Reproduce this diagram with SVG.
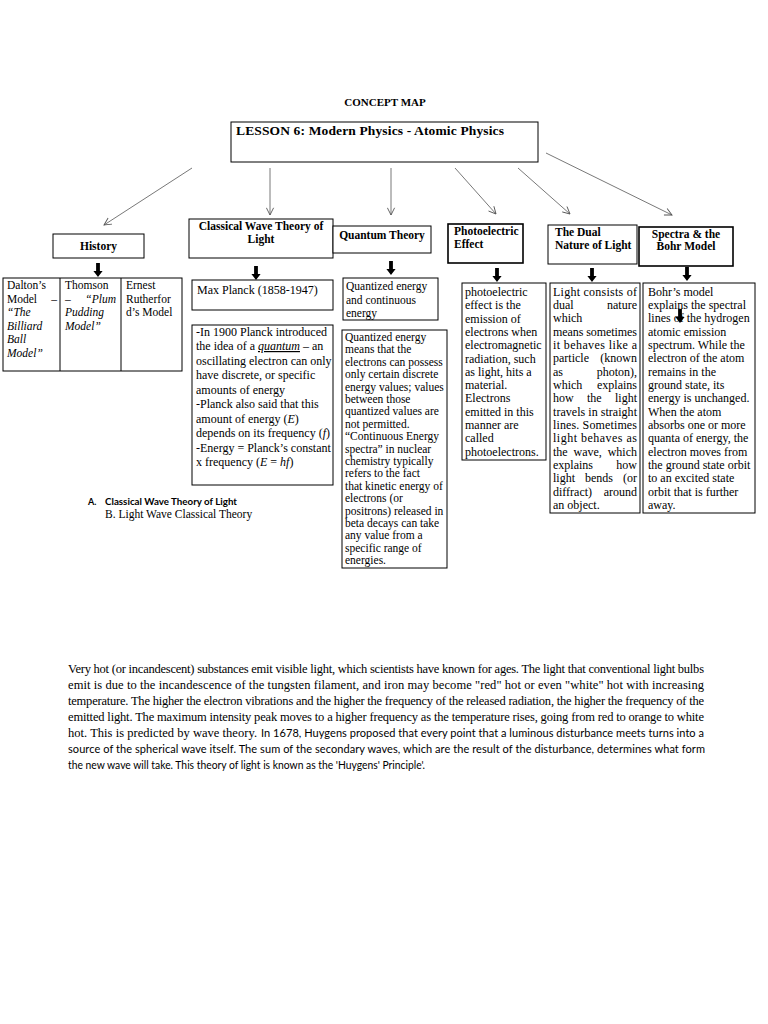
<svg xmlns="http://www.w3.org/2000/svg" width="768" height="1024" viewBox="0 0 768 1024">
<style>
.bg{fill:#ffffff}
.box{fill:#ffffff;stroke:#000000;stroke-width:1}
.box2{fill:#ffffff;stroke:#000000;stroke-width:1.6}
.div{stroke:#000000;stroke-width:1}
.t{font-family:'Liberation Serif','Times New Roman',serif;fill:#000000}
.h{font-family:'Liberation Serif','Times New Roman',serif;font-weight:bold;fill:#000000}
.b12{font-size:12px}
.b115{font-size:11.5px}
.i{font-style:italic}
.s{font-family:Lato,'Liberation Sans',Arial,sans-serif;fill:#000000}
.conn{stroke:#555555;stroke-width:0.8;fill:none}
</style>
<defs>
<marker id="open" viewBox="0 0 10 10" refX="9" refY="5" markerWidth="9" markerHeight="9" orient="auto" markerUnits="userSpaceOnUse">
<path d="M1,1 L9,5 L1,9" fill="none" stroke="#555555" stroke-width="1"/>
</marker>
<path id="barrow" d="M-1.9,0 H1.9 V8 H4.6 L0,14 L-4.6,8 H-1.9 Z" fill="#000000"/>
</defs>
<rect class="bg" x="0" y="0" width="768" height="1024"/>

<text class="h" x="385" y="106" font-size="11" text-anchor="middle">CONCEPT MAP</text>

<g id="lesson">
<rect class="box" x="231" y="122" width="307" height="40" stroke-width="1.2"/>
<text class="h" x="236" y="135" font-size="13.5" textLength="268" lengthAdjust="spacing">LESSON 6:  Modern Physics - Atomic Physics</text>
</g>

<g id="connectors">
<line class="conn" x1="192" y1="168" x2="104" y2="225" marker-end="url(#open)"/>
<line class="conn" x1="270" y1="168" x2="270" y2="215" marker-end="url(#open)"/>
<line class="conn" x1="391" y1="168" x2="391" y2="215" marker-end="url(#open)"/>
<line class="conn" x1="455" y1="168" x2="496" y2="214" marker-end="url(#open)"/>
<line class="conn" x1="518" y1="168" x2="570" y2="214" marker-end="url(#open)"/>
<line class="conn" x1="546" y1="153" x2="672" y2="215" marker-end="url(#open)"/>
<use href="#barrow" x="98" y="263"/>
<use href="#barrow" x="256" y="266"/>
<use href="#barrow" x="391" y="261"/>
<use href="#barrow" x="497" y="268"/>
<use href="#barrow" x="592" y="268"/>
<use href="#barrow" x="687" y="267"/>
</g>

<g id="history">
<rect class="box" x="53" y="234" width="91" height="24" stroke-width="2"/>
<text class="h b115" x="98.5" y="250" text-anchor="middle">History</text>
</g>
<g id="history-models">
<rect class="box" x="3" y="278" width="179" height="93"/>
<line class="div" x1="60" y1="278" x2="60" y2="371"/>
<line class="div" x1="121" y1="278" x2="121" y2="371"/>
<text class="t b115" x="7" y="289">Dalton’s</text>
<text class="t b115" x="7" y="302.6">Model</text>
<text class="t b115" x="57" y="302.6" text-anchor="end">–</text>
<text class="t b115 i" x="7" y="316.2">“The</text>
<text class="t b115 i" x="7" y="329.8">Billiard</text>
<text class="t b115 i" x="7" y="343.4">Ball</text>
<text class="t b115 i" x="7" y="357">Model”</text>
<text class="t b115" x="65" y="289">Thomson</text>
<text class="t b115" x="65" y="302.6">–</text>
<text class="t b115 i" x="116" y="302.6" text-anchor="end">“Plum</text>
<text class="t b115 i" x="65" y="316.2">Pudding</text>
<text class="t b115 i" x="65" y="329.8">Model”</text>
<text class="t b115" x="126" y="289">Ernest</text>
<text class="t b115" x="126" y="302.6">Rutherfor</text>
<text class="t b115" x="126" y="316.2">d’s Model</text>
</g>

<g id="classical">
<rect class="box" x="189" y="219" width="144" height="39"/>
<text class="h b115" x="261" y="230" text-anchor="middle">Classical Wave Theory of</text>
<text class="h b115" x="261" y="242.5" text-anchor="middle">Light</text>
</g>
<g id="max-planck">
<rect class="box" x="192" y="280" width="141" height="30"/>
<text class="t b12" x="197" y="294">Max Planck (1858-1947)</text>
</g>
<g id="planck-text">
<rect class="box" x="192" y="325" width="141" height="160"/>
<text class="t b12" x="196" y="335.5">-In 1900 Planck introduced</text>
<text class="t b12" x="196" y="350">the idea of a <tspan class="i" text-decoration="underline">quantum</tspan> – an</text>
<text class="t b12" x="196" y="364.5">oscillating electron can only</text>
<text class="t b12" x="196" y="379">have discrete, or specific</text>
<text class="t b12" x="196" y="393.5">amounts of energy</text>
<text class="t b12" x="196" y="408">-Planck also said that this</text>
<text class="t b12" x="196" y="422.5">amount of energy (<tspan class="i">E</tspan>)</text>
<text class="t b12" x="196" y="437">depends on its frequency (<tspan class="i">f</tspan>)</text>
<text class="t b12" x="196" y="451.5">-Energy = Planck’s constant</text>
<text class="t b12" x="196" y="466">x frequency (<tspan class="i">E</tspan> = <tspan class="i">hf</tspan>)</text>
</g>

<g id="quantum">
<rect class="box" x="333" y="226" width="98" height="27"/>
<text class="h b115" x="382" y="238.5" text-anchor="middle">Quantum Theory</text>
</g>
<g id="quantized">
<rect class="box" x="343" y="278" width="95" height="42"/>
<text class="t b115" x="346" y="290">Quantized energy</text>
<text class="t b115" x="346" y="303.5">and continuous</text>
<text class="t b115" x="346" y="317">energy</text>
</g>
<g id="quantum-text" class="t b115">
<rect class="box" x="342" y="330" width="105" height="238"/>
<text x="345" y="341">Quantized energy</text>
<text x="345" y="353.4">means that the</text>
<text x="345" y="365.8">electrons can possess</text>
<text x="345" y="378.2">only certain discrete</text>
<text x="345" y="390.6">energy values; values</text>
<text x="345" y="403">between those</text>
<text x="345" y="415.4">quantized values are</text>
<text x="345" y="427.8">not permitted.</text>
<text x="345" y="440.2">“Continuous Energy</text>
<text x="345" y="452.6">spectra” in nuclear</text>
<text x="345" y="465">chemistry typically</text>
<text x="345" y="477.4">refers to the fact</text>
<text x="345" y="489.8">that kinetic energy of</text>
<text x="345" y="502.2">electrons (or</text>
<text x="345" y="514.6">positrons) released in</text>
<text x="345" y="527">beta decays can take</text>
<text x="345" y="539.4">any value from a</text>
<text x="345" y="551.8">specific range of</text>
<text x="345" y="564.2">energies.</text>
</g>

<g id="photoelectric">
<rect class="box2" x="448" y="224" width="75" height="39"/>
<text class="h b115" x="454" y="235">Photoelectric</text>
<text class="h b115" x="454" y="247.5">Effect</text>
</g>
<g id="photo-text" class="t b12">
<rect class="box" x="462" y="283" width="84" height="177"/>
<text x="465" y="296">photoelectric</text>
<text x="465" y="309.3">effect is the</text>
<text x="465" y="322.6">emission of</text>
<text x="465" y="335.9">electrons when</text>
<text x="465" y="349.2">electromagnetic</text>
<text x="465" y="362.5">radiation, such</text>
<text x="465" y="375.8">as light, hits a</text>
<text x="465" y="389.1">material.</text>
<text x="465" y="402.4">Electrons</text>
<text x="465" y="415.7">emitted in this</text>
<text x="465" y="429">manner are</text>
<text x="465" y="442.3">called</text>
<text x="465" y="455.6">photoelectrons.</text>
</g>

<g id="dual">
<rect class="box" x="548" y="225" width="89" height="39"/>
<text class="h b115" x="555" y="236">The Dual</text>
<text class="h b115" x="555" y="248.5">Nature of Light</text>
</g>
<g id="dual-text" class="t b12">
<rect class="box" x="550" y="283" width="90" height="230"/>
<text x="553" y="295.5" textLength="84" lengthAdjust="spacing">Light consists of</text>
<text x="553" y="308.85">dual</text><text x="637" y="308.85" text-anchor="end">nature</text>
<text x="553" y="322.2">which</text>
<text x="553" y="335.55" textLength="84" lengthAdjust="spacing">means sometimes</text>
<text x="553" y="348.9" textLength="84" lengthAdjust="spacing">it behaves like a</text>
<text x="553" y="362.25">particle</text><text x="637" y="362.25" text-anchor="end">(known</text>
<text x="553" y="375.6">as</text><text x="637" y="375.6" text-anchor="end">photon),</text>
<text x="553" y="388.95">which</text><text x="637" y="388.95" text-anchor="end">explains</text>
<text x="553" y="402.3">how</text><text x="587" y="402.3">the</text><text x="637" y="402.3" text-anchor="end">light</text>
<text x="553" y="415.65" textLength="84" lengthAdjust="spacing">travels in straight</text>
<text x="553" y="429" textLength="84" lengthAdjust="spacing">lines. Sometimes</text>
<text x="553" y="442.35" textLength="84" lengthAdjust="spacing">light behaves as</text>
<text x="553" y="455.7">the</text><text x="573.5" y="455.7">wave,</text><text x="637" y="455.7" text-anchor="end">which</text>
<text x="553" y="469.05">explains</text><text x="637" y="469.05" text-anchor="end">how</text>
<text x="553" y="482.4">light</text><text x="585" y="482.4">bends</text><text x="637" y="482.4" text-anchor="end">(or</text>
<text x="553" y="495.75">diffract)</text><text x="637" y="495.75" text-anchor="end">around</text>
<text x="553" y="509.1">an object.</text>
</g>

<g id="spectra">
<rect class="box2" x="639" y="227" width="94" height="39"/>
<text class="h b115" x="686" y="237.5" text-anchor="middle">Spectra &amp; the</text>
<text class="h b115" x="686" y="250" text-anchor="middle">Bohr Model</text>
</g>
<g id="bohr-text" class="t b12">
<rect class="box" x="643" y="283" width="112" height="230"/>
<text x="648" y="295.5">Bohr’s model</text>
<text x="648" y="308.85">explains the spectral</text>
<text x="648" y="322.2">lines of the hydrogen</text>
<text x="648" y="335.55">atomic emission</text>
<text x="648" y="348.9">spectrum. While the</text>
<text x="648" y="362.25">electron of the atom</text>
<text x="648" y="375.6">remains in the</text>
<text x="648" y="388.95">ground state, its</text>
<text x="648" y="402.3">energy is unchanged.</text>
<text x="648" y="415.65">When the atom</text>
<text x="648" y="429">absorbs one or more</text>
<text x="648" y="442.35">quanta of energy, the</text>
<text x="648" y="455.7">electron moves from</text>
<text x="648" y="469.05">the ground state orbit</text>
<text x="648" y="482.4">to an excited state</text>
<text x="648" y="495.75">orbit that is further</text>
<text x="648" y="509.1">away.</text>
<use href="#barrow" x="680" y="309"/>
</g>

<text class="s" x="88" y="505" font-size="9" font-weight="bold">A.</text>
<text class="s" x="105" y="505" font-size="9" font-weight="bold" textLength="132" lengthAdjust="spacingAndGlyphs">Classical Wave Theory of Light</text>
<text class="t b115" x="105" y="518">B. Light Wave Classical Theory</text>

<g id="paragraph">
<text class="t" font-size="12.5" x="68" y="673" textLength="636" lengthAdjust="spacing">Very hot (or incandescent) substances emit visible light, which scientists have known for ages. The light that conventional light bulbs</text>
<text class="t" font-size="12.5" x="68" y="689" textLength="636" lengthAdjust="spacing">emit is due to the incandescence of the tungsten filament, and iron may become "red" hot or even "white" hot with increasing</text>
<text class="t" font-size="12.5" x="68" y="705" textLength="636" lengthAdjust="spacing">temperature. The higher the electron vibrations and the higher the frequency of the released radiation, the higher the frequency of the</text>
<text class="t" font-size="12.5" x="68" y="721" textLength="636" lengthAdjust="spacing">emitted light. The maximum intensity peak moves to a higher frequency as the temperature rises, going from red to orange to white</text>
<text class="t" font-size="12.5" x="68" y="737" textLength="189" lengthAdjust="spacing">hot. This is predicted by wave theory.</text>
<text class="s" font-size="11" x="261" y="737" textLength="443" lengthAdjust="spacing">In 1678, Huygens proposed that every point that a luminous disturbance meets turns into a</text>
<text class="s" font-size="11" x="68" y="753" textLength="637" lengthAdjust="spacing">source of the spherical wave itself. The sum of the secondary waves, which are the result of the disturbance, determines what form</text>
<text class="s" font-size="11" x="68" y="769" textLength="357" lengthAdjust="spacingAndGlyphs">the new wave will take. This theory of light is known as the 'Huygens' Principle'.</text>
</g>
</svg>
